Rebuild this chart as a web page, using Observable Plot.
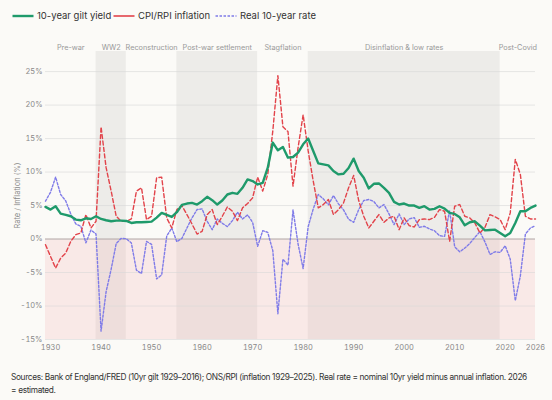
<!DOCTYPE html>
<html>
<head>
<meta charset="utf-8">
<script src="https://cdn.jsdelivr.net/npm/d3@7"></script>
<script src="https://cdn.jsdelivr.net/npm/@observablehq/plot@0.6"></script>
<style>
  html, body { margin: 0; padding: 0; background: #fbfaf7; }
  body { width: 552px; height: 400px; overflow: hidden; font-family: "Inter", "Roboto", sans-serif; color: #333; }
  #legend { display: flex; align-items: center; height: 31px; padding-left: 12px; font-size: 9.5px; color: #333; }
  .item { display: flex; align-items: center; white-space: nowrap; }
  .item svg { margin-right: 3px; }
  #chart svg { display: block; }
  #caption { padding: 10px 2px 0 11px; font-size: 8.3px; letter-spacing: -0.34px; line-height: 13px; color: #333; }
</style>
</head>
<body>
<div id="legend"></div>
<div id="chart"></div>
<div id="caption">Sources: Bank of England/FRED (10yr gilt 1929–2016); ONS/RPI (inflation 1929–2025). Real rate = nominal 10yr yield minus annual inflation. 2026<br>= estimated.</div>
<script>
const years = d3.range(1929, 2027);

const giltYield = [
  4.8, 4.4, 4.9, 3.8, 3.6, 3.4, 2.9, 2.8, 3.1, 3.0,
  3.4, 3.0, 2.8, 2.65, 2.75, 2.75, 2.7, 2.4, 2.5, 2.5,
  2.55, 2.6, 3.2, 3.9, 3.6, 3.3, 4.0, 5.1, 5.3, 5.4,
  5.15, 5.65, 6.3, 5.8, 5.15, 5.75, 6.65, 6.9, 6.75, 7.65,
  8.9, 8.65, 8.15, 8.4, 10.65, 14.4, 13.25, 13.75, 12.15, 12.25,
  12.9, 14.15, 15.0, 13.15, 11.3, 11.15, 11.0, 10.15, 9.65, 9.75,
  10.6, 12.0, 10.15, 9.15, 7.55, 8.25, 8.3, 7.65, 6.9, 5.55,
  5.15, 5.3, 5.0, 5.0, 4.65, 4.9, 4.4, 4.5, 4.9, 4.55,
  3.9, 3.75, 3.25, 2.05, 2.5, 2.65, 2.0, 1.3, 1.35, 1.4,
  0.9, 0.4, 0.9, 2.4, 4.15, 4.15, 4.65, 5.0
];

const inflation = [
  -0.85, -2.6, -4.35, -2.85, -2.1, -0.35, 0.65, 0.9, 3.65, 1.65,
  2.65, 16.75, 10.65, 7.15, 3.4, 2.65, 2.65, 3.0, 7.15, 7.65,
  2.9, 3.4, 9.15, 9.25, 3.15, 1.65, 4.4, 5.0, 3.65, 2.25,
  0.75, 1.15, 3.65, 4.4, 2.15, 3.4, 4.8, 4.15, 2.75, 4.65,
  5.3, 6.15, 9.25, 7.15, 9.65, 16.15, 24.4, 16.75, 16.05, 7.9,
  13.65, 18.55, 13.15, 8.65, 4.65, 5.15, 5.9, 3.65, 4.4, 5.4,
  7.65, 9.5, 5.75, 3.4, 1.65, 2.65, 3.65, 2.5, 3.15, 3.4,
  1.4, 3.15, 2.0, 1.8, 2.9, 3.0, 2.9, 3.25, 4.4, 4.15,
  -0.35, 4.9, 5.15, 3.4, 3.15, 2.4, 0.9, 1.75, 3.65, 3.3,
  2.9, 1.4, 3.9, 11.9, 9.65, 3.4, 3.0, 3.0
];

const realRate = [
  5.65, 7.0, 9.25, 6.65, 5.7, 3.75, 2.25, 1.9, -0.55, 1.35,
  0.75, -13.75, -7.85, -4.5, -0.65, 0.1, 0.05, -0.6, -4.65, -5.15,
  -0.35, -0.8, -5.95, -5.35, 0.45, 1.65, -0.4, 0.1, 1.65, 3.15,
  4.4, 4.5, 2.65, 1.4, 3.0, 2.35, 1.85, 2.75, 4.0, 3.0,
  3.6, 2.5, -1.1, 1.25, 1.0, -1.75, -11.15, -3.0, -3.9, 4.35,
  -0.75, -4.4, 1.85, 4.5, 6.65, 6.0, 5.1, 6.5, 5.25, 4.35,
  2.95, 2.5, 4.4, 5.75, 5.9, 5.6, 4.65, 5.15, 3.75, 2.15,
  3.75, 2.15, 3.0, 3.2, 1.75, 1.9, 1.5, 1.25, 0.5, 0.4,
  4.25, -1.15, -1.9, -1.35, -0.65, 0.25, 1.1, -0.45, -2.3, -1.9,
  -2.0, -1.0, -3.0, -9.2, -5.5, 0.75, 1.65, 2.0
];

const eraNames = ["Pre-war", "WW2", "Reconstruction", "Post-war settlement", "Stagflation", "Disinflation & low rates", "Post-Covid"];
const eraStart = [1929, 1939, 1945, 1955, 1971, 1981, 2019];
const eraEnd = [1939, 1945, 1955, 1971, 1981, 2019, 2026];
const eraShaded = [false, true, false, true, false, true, false];

const xTicks = [1930, 1940, 1950, 1960, 1970, 1980, 1990, 2000, 2010, 2020, 2026];
const yTicks = [-15, -10, -5, 0, 5, 10, 15, 20, 25];
const yDomain = [-15, 28];

const seriesNames = ["10-year gilt yield", "CPI/RPI inflation", "Real 10-year rate"];
const seriesColors = ["#1f9a6b", "#e2434a", "#7f7be8"];

const gilt = years.map((y, i) => ({year: y, value: giltYield[i]}));
const infl = years.map((y, i) => ({year: y, value: inflation[i]}));
const real = years.map((y, i) => ({year: y, value: realRate[i]}));
const eras = eraNames.map((n, i) => ({name: n, start: eraStart[i], end: eraEnd[i], shaded: eraShaded[i], mid: (eraStart[i] + eraEnd[i]) / 2}));

// legend
const legend = document.getElementById("legend");
const dashes = [null, null, "2.5,1.5"];
const itemWidths = ["101px", "102px", "auto"];
seriesNames.forEach((name, i) => {
  const item = document.createElement("div");
  item.className = "item";
  item.style.width = itemWidths[i];
  item.innerHTML = `<svg width="22" height="6"><line x1="0.5" x2="21.5" y1="3" y2="3" stroke="${seriesColors[i]}" stroke-width="${i === 0 ? 2.4 : 1.6}" ${dashes[i] ? `stroke-dasharray="${dashes[i]}"` : ""}/></svg><span>${name}</span>`;
  legend.appendChild(item);
});

const chart = Plot.plot({
  width: 552,
  height: 330,
  marginTop: 20,
  marginBottom: 22,
  marginLeft: 45,
  marginRight: 17,
  style: {background: "transparent", fontFamily: "Inter, Roboto, sans-serif", fontSize: "7.5px", color: "#888"},
  x: {domain: [years[0], years[years.length - 1]]},
  y: {domain: yDomain},
  marks: [
    Plot.rect(eras.filter(d => d.shaded), {x1: "start", x2: "end", fill: "#000", fillOpacity: 0.055}),
    Plot.rect([yDomain], {x1: years[0], x2: years[years.length - 1], y1: d => d[0], y2: 0, fill: "#f2b4b4", fillOpacity: 0.24}),
    Plot.gridY(yTicks.filter(t => t !== 0), {stroke: "#d8d8d8", strokeOpacity: 0.6}),
    Plot.ruleY([0], {stroke: "#b0aaaa", strokeWidth: 1}),
    Plot.text(eras, {x: "mid", frameAnchor: "top", dy: -7, text: "name", fill: "#999", fontSize: 7.3}),
    Plot.axisX({ticks: xTicks, tickFormat: d => String(d), tickSize: 0, tickPadding: 5, label: null, fill: "#888"}),
    Plot.axisY({ticks: yTicks, tickFormat: d => d + "%", tickSize: 0, tickPadding: 3, label: "Rate / Inflation (%)", labelAnchor: "center", labelArrow: "none", labelOffset: 31, fill: "#888"}),
    Plot.line(real, {x: "year", y: "value", stroke: seriesColors[2], strokeWidth: 1.4, strokeDasharray: "2.2,1.8"}),
    Plot.line(infl, {x: "year", y: "value", stroke: seriesColors[1], strokeWidth: 1.4, strokeDasharray: "4,2.5"}),
    Plot.line(gilt, {x: "year", y: "value", stroke: seriesColors[0], strokeWidth: 2.4})
  ]
});
document.getElementById("chart").appendChild(chart);
</script>
</body>
</html>
